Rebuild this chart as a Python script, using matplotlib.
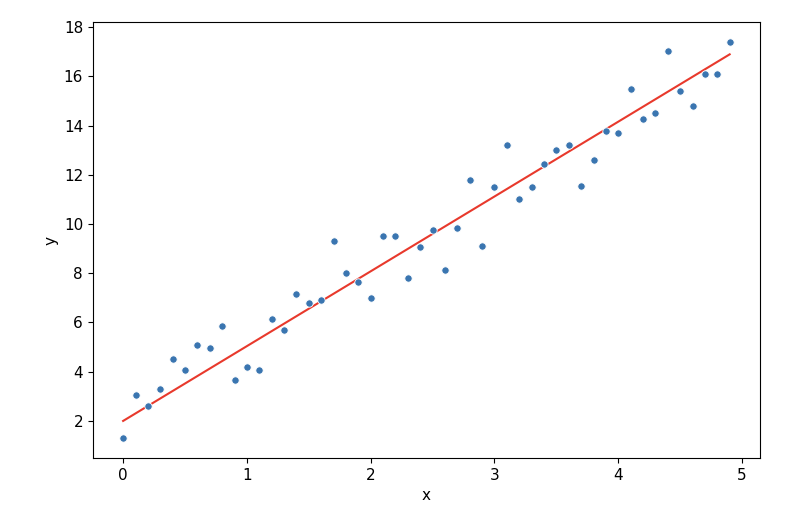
import numpy as np
import matplotlib
matplotlib.use("Agg")
import matplotlib.pyplot as plt

x = [round(0.1*i, 1) for i in range(50)]
y = [1.3, 3.05, 2.6, 3.3, 4.5, 4.05, 5.1, 4.95, 5.85, 3.65,
     4.2, 4.05, 6.15, 5.7, 7.15, 6.8, 6.9, 9.3, 8.0, 7.65,
     7.0, 9.5, 9.5, 7.8, 9.05, 9.75, 8.15, 9.85, 11.8, 9.1,
     11.5, 13.2, 11.0, 11.5, 12.45, 13.0, 13.2, 11.55, 12.6, 13.8,
     13.7, 15.5, 14.25, 14.5, 17.05, 15.4, 14.8, 16.1, 16.1, 17.4]
line_intercept = 2.0
line_slope = 3.04

fig, ax = plt.subplots(figsize=(8, 5.27), dpi=100)
ax.scatter(x, y, s=28, color='#3a75b0', edgecolors='white', linewidths=0.6, zorder=3)
xa = np.array([x[0], x[-1]])
ax.plot(xa, line_intercept + line_slope*xa, color='#e8392c', lw=1.5, zorder=2)
ax.set_xlabel('x', fontsize=11)
ax.set_ylabel('y', fontsize=11)
ax.set_yticks([2, 4, 6, 8, 10, 12, 14, 16, 18])
ax.tick_params(labelsize=11)
plt.subplots_adjust(left=0.116, right=0.95, bottom=0.131, top=0.958)
fig.savefig('out.png')
